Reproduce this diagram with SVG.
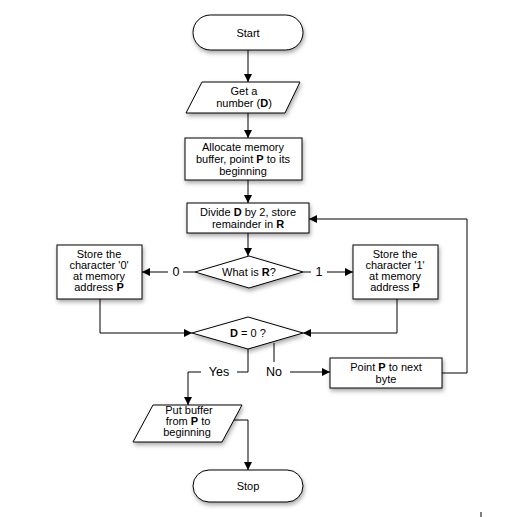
<svg xmlns="http://www.w3.org/2000/svg" width="510" height="517" viewBox="0 0 510 517">
<defs>
<filter id="sh" x="-20%" y="-20%" width="150%" height="160%">
<feDropShadow dx="1" dy="2.5" stdDeviation="2" flood-color="#000" flood-opacity="0.35"/>
</filter>
<marker id="ar" viewBox="0 0 10 10" refX="10" refY="5" markerWidth="8" markerHeight="8" markerUnits="userSpaceOnUse" orient="auto">
<path d="M0,0 L10,5 L0,10 z" fill="#000"/>
</marker>
</defs>
<style>
.n{fill:#fff;stroke:#000;stroke-width:1;filter:url(#sh)}
.t{font-family:"Liberation Sans",Arial,sans-serif;font-size:11px;text-anchor:middle;fill:#000}
.l{font-family:"Liberation Sans",Arial,sans-serif;font-size:12.5px;text-anchor:middle;fill:#000}
.c{fill:none;stroke:#000;stroke-width:1}
.a{marker-end:url(#ar)}
</style>
<rect width="510" height="517" fill="#fff"/>
<g id="connectors">
<path class="c a" d="M248,50 V82"/>
<path class="c a" d="M248,113 V138"/>
<path class="c a" d="M248,180 V203"/>
<path class="c a" d="M248,233 V256"/>
<path class="c" d="M195,272 H183"/>
<path class="c a" d="M168,272 H142"/>
<path class="c" d="M303,272 H311"/>
<path class="c a" d="M327,272 H353"/>
<path class="c a" d="M100,299 V333 H192"/>
<path class="c a" d="M397,299 V333 H303"/>
<path class="c" d="M248,349 V372 H237"/>
<path class="c a" d="M201,372 H188 V405"/>
<path class="c" d="M274,343 V362"/>
<path class="c a" d="M290,372 H330"/>
<path class="c a" d="M442,373 H467 V219 H309"/>
<path class="c a" d="M233,420 H248 V470"/>
<path class="c" d="M481,512 V517"/>
</g>
<g id="labels">
<text class="l" x="176" y="276">0</text>
<text class="l" x="319" y="276">1</text>
<text class="l" x="219" y="376">Yes</text>
<text class="l" x="274" y="376">No</text>
</g>
<g id="start">
<rect class="n" x="193" y="15" width="110" height="35" rx="17.5"/>
<text class="t" x="248" y="37">Start</text>
</g>
<g id="get">
<polygon class="n" points="202,82 300,82 285,113 186,113"/>
<text class="t" x="244" y="95">Get a</text>
<text class="t" x="244" y="107">number (<tspan font-weight="bold">D</tspan>)</text>
</g>
<g id="allocate">
<rect class="n" x="185" y="138" width="117" height="42"/>
<text class="t" x="243" y="151">Allocate memory</text>
<text class="t" x="243" y="163">buffer, point <tspan font-weight="bold">P</tspan> to its</text>
<text class="t" x="243" y="175">beginning</text>
</g>
<g id="divide">
<rect class="n" x="187" y="203" width="122" height="30"/>
<text class="t" x="248" y="216">Divide <tspan font-weight="bold">D</tspan> by 2, store</text>
<text class="t" x="248" y="228">remainder in <tspan font-weight="bold">R</tspan></text>
</g>
<g id="whatR">
<polygon class="n" points="249,256 303,272 249,288 195,272"/>
<text class="t" x="249" y="276">What is <tspan font-weight="bold">R</tspan>?</text>
</g>
<g id="store0">
<rect class="n" x="57" y="245" width="85" height="54"/>
<text class="t" x="99" y="258">Store the</text>
<text class="t" x="99" y="269">character '0'</text>
<text class="t" x="99" y="280">at memory</text>
<text class="t" x="99" y="291">address <tspan font-weight="bold">P</tspan></text>
</g>
<g id="store1">
<rect class="n" x="353" y="245" width="85" height="54"/>
<text class="t" x="395" y="258">Store the</text>
<text class="t" x="395" y="269">character '1'</text>
<text class="t" x="395" y="280">at memory</text>
<text class="t" x="395" y="291">address <tspan font-weight="bold">P</tspan></text>
</g>
<g id="dzero">
<polygon class="n" points="248,317 303,333 248,349 192,333"/>
<text class="t" x="248" y="337"><tspan font-weight="bold">D</tspan> = 0 ?</text>
</g>
<g id="pointP">
<rect class="n" x="330" y="358" width="112" height="30"/>
<text class="t" x="386" y="371">Point <tspan font-weight="bold">P</tspan> to next</text>
<text class="t" x="386" y="383">byte</text>
</g>
<g id="putbuf">
<polygon class="n" points="153,405 242,405 222,442 133,442"/>
<text class="t" x="189" y="414">Put buffer</text>
<text class="t" x="188" y="425">from <tspan font-weight="bold">P</tspan> to</text>
<text class="t" x="187" y="436">beginning</text>
</g>
<g id="stop">
<rect class="n" x="193" y="470" width="110" height="32" rx="16"/>
<text class="t" x="248" y="490">Stop</text>
</g>
</svg>
